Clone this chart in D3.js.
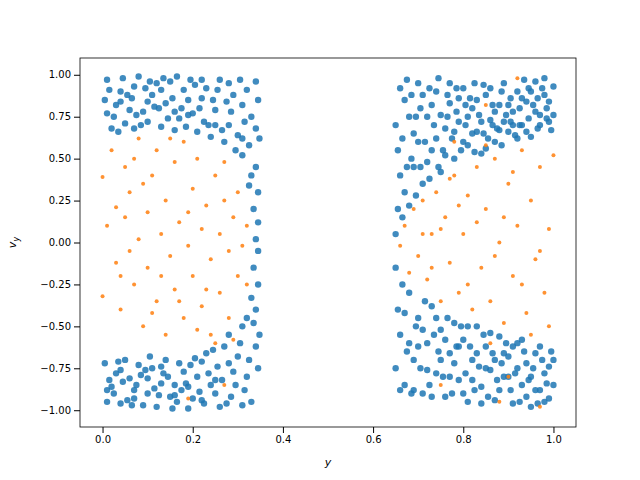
<!DOCTYPE html><html><head><meta charset="utf-8"><script src="https://d3js.org/d3.v7.min.js"></script>
<style>body{margin:0;background:#fff}text{font-family:"DejaVu Sans",sans-serif}</style></head><body>
<script>
const blueY=[0.01,0.03,0.05,0.07,0.09,0.11,0.13,0.15,0.17,0.19,0.21,0.23,0.25,0.27,0.29,0.31,0.33,0.345,0.02,0.04,0.06,0.08,0.10,0.12,0.14,0.16,0.18,0.20,0.22,0.24,0.26,0.28,0.30,0.32,0.34,0.335,0.005,0.025,0.045,0.065,0.085,0.105,0.125,0.145,0.165,0.185,0.205,0.225,0.245,0.265,0.285,0.305,0.325,0.345,0.015,0.035,0.055,0.075,0.095,0.115,0.135,0.155,0.175,0.195,0.215,0.235,0.255,0.275,0.295,0.315,0.33,0.348,0.01,0.04,0.07,0.10,0.13,0.16,0.19,0.22,0.25,0.28,0.31,0.34,0.345,0.34,0.325,0.31,
0.01,0.03,0.05,0.07,0.09,0.11,0.13,0.15,0.17,0.19,0.21,0.23,0.25,0.27,0.29,0.31,0.33,0.345,0.02,0.04,0.06,0.08,0.10,0.12,0.14,0.16,0.18,0.20,0.22,0.24,0.26,0.28,0.30,0.32,0.34,0.335,0.005,0.025,0.045,0.065,0.085,0.105,0.125,0.145,0.165,0.185,0.205,0.225,0.245,0.265,0.285,0.305,0.325,0.348,0.015,0.035,0.055,0.075,0.095,0.115,0.135,0.155,0.175,0.195,0.215,0.235,0.255,0.275,0.295,0.315,0.33,0.345,0.01,0.04,0.07,0.10,0.13,0.16,0.19,0.22,0.25,0.28,0.31,0.34,0.32,0.345,0.34,0.335,
0.65,0.66,0.67,0.68,0.69,0.70,0.71,0.72,0.73,0.74,0.75,0.76,0.77,0.78,0.79,0.80,0.81,0.82,0.83,0.84,0.85,0.86,0.87,0.88,0.89,0.90,0.91,0.92,0.93,0.94,0.95,0.96,0.97,0.98,0.99,1.00,0.655,0.665,0.675,0.685,0.695,0.705,0.715,0.725,0.735,0.745,0.755,0.765,0.775,0.785,0.795,0.805,0.815,0.825,0.835,0.845,0.855,0.865,0.875,0.885,0.895,0.905,0.915,0.925,0.935,0.945,0.955,0.965,0.975,0.985,0.995,0.65,0.66,0.67,0.68,0.69,0.70,0.71,0.72,0.73,0.74,0.75,0.76,0.77,0.78,0.79,0.80,0.81,0.82,0.83,0.84,0.85,0.86,0.87,0.88,0.89,0.90,0.91,0.92,0.93,0.94,0.95,0.96,0.97,0.98,0.99,1.00,0.655,0.665,0.675,0.685,0.695,0.705,0.725,0.745,0.765,0.785,0.805,0.825,0.845,0.865,0.885,0.905,0.925,0.945,0.965,0.985,
0.65,0.66,0.67,0.68,0.69,0.70,0.71,0.72,0.73,0.74,0.75,0.76,0.77,0.78,0.79,0.80,0.81,0.82,0.83,0.84,0.85,0.86,0.87,0.88,0.89,0.90,0.91,0.92,0.93,0.94,0.95,0.96,0.97,0.98,0.99,1.00,0.655,0.665,0.675,0.685,0.695,0.705,0.715,0.725,0.735,0.745,0.755,0.765,0.775,0.785,0.795,0.805,0.815,0.825,0.835,0.845,0.855,0.865,0.875,0.885,0.895,0.905,0.915,0.925,0.935,0.945,0.955,0.965,0.975,0.985,0.995,0.65,0.66,0.67,0.68,0.69,0.70,0.71,0.72,0.73,0.74,0.75,0.76,0.77,0.78,0.79,0.80,0.81,0.82,0.83,0.84,0.85,0.86,0.87,0.88,0.89,0.90,0.91,0.92,0.93,0.94,0.95,0.96,0.97,0.98,0.99,1.00];
const blueV=[0.97,0.82,0.71,0.93,0.78,0.88,0.69,0.96,0.74,0.85,0.66,0.92,0.79,0.60,0.88,0.52,0.75,0.30,0.68,0.90,0.79,0.99,0.72,0.95,0.83,0.67,0.91,0.77,0.86,0.63,0.97,0.70,0.64,0.91,0.45,0.20,0.85,0.75,0.98,0.86,0.70,0.96,0.80,0.74,0.99,0.69,0.94,0.72,0.85,0.67,0.78,0.97,0.58,0.85,0.91,0.66,0.88,0.76,0.92,0.81,0.98,0.86,0.80,0.97,0.80,0.70,0.91,0.84,0.55,0.72,0.40,0.62,0.77,0.84,0.68,0.84,0.91,0.78,0.76,0.97,0.70,0.95,0.82,0.96,0.12,0.68,0.34,0.62,
-0.95,-0.78,-0.70,-0.88,-0.97,-0.75,-0.84,-0.92,-0.72,-0.99,-0.80,-0.66,-0.90,-0.62,-0.77,-0.50,-0.95,-0.25,-0.86,-0.96,-0.81,-0.73,-0.90,-0.98,-0.70,-0.85,-0.77,-0.93,-0.71,-0.85,-0.98,-0.55,-0.68,-0.80,-0.40,-0.15,-0.72,-0.90,-0.83,-0.97,-0.79,-0.68,-0.91,-0.80,-0.95,-0.84,-0.69,-0.96,-0.64,-0.82,-0.92,-0.60,-0.70,-0.55,-0.82,-0.71,-0.94,-0.85,-0.76,-0.87,-0.78,-0.99,-0.88,-0.73,-0.89,-0.78,-0.74,-0.96,-0.85,-0.88,-0.33,-0.75,-0.88,-0.76,-0.93,-0.81,-0.74,-0.91,-0.86,-0.94,-0.82,-0.72,-0.97,-0.62,-0.45,-0.05,0.02,-0.48,
0.05,0.40,0.85,0.22,0.65,0.95,0.35,0.75,0.55,0.90,0.42,0.68,0.83,0.50,0.72,0.92,0.58,0.80,0.66,0.53,0.88,0.73,0.60,0.82,0.95,0.66,0.78,0.90,0.70,0.84,0.63,0.96,0.76,0.88,0.72,0.93,0.55,0.15,0.97,0.50,0.28,0.80,0.60,0.38,0.70,0.98,0.55,0.88,0.62,0.78,0.55,0.70,0.86,0.54,0.76,0.94,0.62,0.82,0.68,0.58,0.76,0.86,0.64,0.80,0.97,0.74,0.82,0.68,0.92,0.80,0.67,0.70,0.92,0.30,0.75,0.45,0.60,0.88,0.48,0.82,0.62,0.76,0.52,0.95,0.66,0.86,0.60,0.75,0.65,0.85,0.72,0.56,0.92,0.78,0.67,0.72,0.82,0.70,0.62,0.86,0.66,0.90,0.78,0.70,0.98,0.84,0.76,0.20,0.62,0.45,0.88,0.75,0.45,0.92,0.45,0.75,0.92,0.82,0.95,0.65,0.70,0.90,0.72,0.70,0.92,0.86,0.74,
-0.15,-0.55,-0.85,-0.30,-0.70,-0.45,-0.90,-0.60,-0.38,-0.78,-0.52,-0.92,-0.66,-0.48,-0.82,-0.58,-0.95,-0.70,-0.50,-0.86,-0.62,-0.76,-0.94,-0.56,-0.80,-0.68,-0.96,-0.60,-0.85,-0.72,-0.98,-0.66,-0.88,-0.78,-0.93,-0.70,-0.40,-0.25,-0.65,-0.90,-0.50,-0.75,-0.35,-0.85,-0.55,-0.65,-0.80,-0.45,-0.90,-0.62,-0.50,-0.78,-0.62,-0.88,-0.74,-0.55,-0.92,-0.66,-0.82,-0.72,-0.60,-0.88,-0.78,-0.95,-0.65,-0.82,-0.75,-0.96,-0.70,-0.84,-0.65,-0.75,-0.88,-0.42,-0.60,-0.88,-0.62,-0.52,-0.76,-0.92,-0.45,-0.70,-0.58,-0.80,-0.72,-0.62,-0.90,-0.50,-0.82,-0.66,-0.96,-0.75,-0.54,-0.70,-0.88,-0.66,-0.80,-0.62,-0.75,-0.58,-0.92,-0.80,-0.88,-0.62,-0.95,-0.74,-0.85];
const orangeY=[0.00,0.00,0.01,0.02,0.03,0.03,0.04,0.05,0.06,0.06,0.07,0.08,0.08,0.09,0.10,0.10,0.11,0.12,0.12,0.13,0.14,0.14,0.15,0.16,0.16,0.17,0.18,0.18,0.19,0.20,0.20,0.21,0.22,0.22,0.23,0.24,0.24,0.25,0.26,0.26,0.27,0.28,0.28,0.29,0.30,0.30,0.31,0.32,0.32,0.05,0.09,0.11,0.15,0.19,0.21,0.23,0.27,0.04,0.17,0.13,0.07,0.25,0.19,0.27,0.29,
0.66,0.67,0.68,0.69,0.70,0.71,0.72,0.73,0.74,0.75,0.76,0.77,0.78,0.79,0.80,0.81,0.82,0.83,0.84,0.85,0.86,0.87,0.88,0.89,0.90,0.91,0.92,0.93,0.94,0.95,0.96,0.97,0.98,0.99,1.00,0.99,0.97,0.95,0.93,0.91,0.89,0.87,0.85,0.83,0.81,0.79,0.77,0.75,0.73,0.71,0.85,0.92,0.78,0.90,0.88,0.97,0.75,0.86];
const orangeV=[0.39,-0.32,0.10,0.55,-0.12,0.21,-0.40,0.45,-0.05,0.30,-0.25,0.62,0.02,-0.50,0.18,-0.15,0.40,-0.35,0.55,0.05,-0.55,0.25,-0.08,0.48,-0.28,0.12,-0.45,0.60,-0.02,0.32,-0.20,0.50,-0.38,0.08,0.22,-0.55,-0.10,0.40,-0.30,0.05,0.25,-0.45,-0.05,0.15,-0.20,0.30,-0.02,0.10,-0.25,0.15,0.35,-0.42,0.62,0.18,-0.52,-0.28,0.48,-0.20,-0.35,-0.20,0.50,-0.60,-0.93,-0.85,-0.58,
-0.02,0.10,-0.18,0.20,-0.08,0.25,-0.22,0.05,0.30,-0.35,0.15,-0.12,0.40,-0.30,0.05,0.28,-0.40,0.45,-0.15,0.20,-0.35,0.50,0.00,-0.48,0.35,-0.20,0.10,0.55,-0.42,0.25,-0.10,0.45,-0.30,0.08,0.52,-0.50,-0.05,-0.55,-0.25,0.42,0.15,-0.08,0.58,0.12,-0.25,0.22,0.38,0.08,-0.15,0.05,0.82,0.98,0.60,-0.80,-0.95,-0.98,-0.85,-0.60];
const xTicks=[0,0.2,0.4,0.6,0.8,1.0], yTicks=[-1,-0.75,-0.5,-0.25,0,0.25,0.5,0.75,1];

const W=640,H=480,m={l:80,r:64,t:58,b:53};
const svg=d3.select("body").append("svg").attr("width",W).attr("height",H);
const x=d3.scaleLinear().domain([-0.05,1.05]).range([m.l,W-m.r]);
const y=d3.scaleLinear().domain([-1.1,1.1]).range([H-m.b,m.t]);
const g=svg.append("g");
g.selectAll(".b").data(blueY).enter().append("circle").attr("cx",d=>x(d)).attr("cy",(d,i)=>y(blueV[i])).attr("r",3.2).attr("fill","#1f77b4").attr("opacity",0.85);
g.selectAll(".o").data(orangeY).enter().append("circle").attr("cx",d=>x(d)).attr("cy",(d,i)=>y(orangeV[i])).attr("r",2).attr("fill","#ff7f0e").attr("opacity",0.85);
const xa=svg.append("g").attr("transform",`translate(0,${H-m.b})`).call(d3.axisBottom(x).tickValues(xTicks).tickFormat(d3.format(".1f")).tickSizeOuter(0));
const ya=svg.append("g").attr("transform",`translate(${m.l},0)`).call(d3.axisLeft(y).tickValues(yTicks).tickFormat(d3.format(".2f")).tickSizeOuter(0));
[xa,ya].forEach(a=>{a.selectAll("text").attr("font-size",10).attr("fill","#000");a.select(".domain").remove();});
svg.append("rect").attr("x",m.l).attr("y",m.t).attr("width",W-m.l-m.r).attr("height",H-m.t-m.b).attr("fill","none").attr("stroke","#000").attr("stroke-width",0.8);
svg.append("text").attr("x",x(0.5)).attr("y",466).attr("text-anchor","middle").attr("font-size",11).attr("font-style","italic").text("y");
const yl=svg.append("text").attr("transform",`translate(16,${y(0)}) rotate(-90)`).attr("text-anchor","middle").attr("font-size",11).attr("font-style","italic");
yl.append("tspan").text("v");yl.append("tspan").attr("font-size",8).attr("dy",3).text("y");
</script></body></html>
